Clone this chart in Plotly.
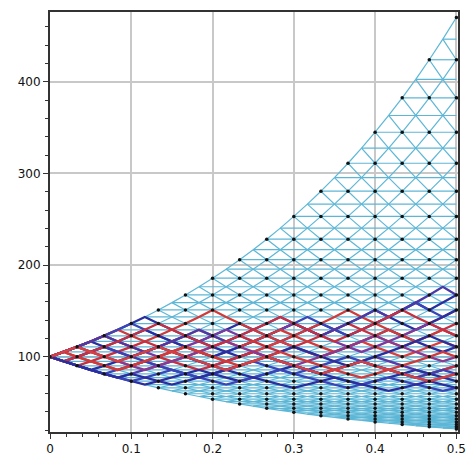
import numpy as np
import plotly.graph_objects as go

# binomial tree parameters
s0 = 100.0
t_end = 0.5
n_steps = 30
s_top = 470.0

# sample paths through the tree (u = up, d = down)
paths = [
    "uuuuuuudddduuuddduuudduuuuuduu",
    "uuuuudduuuuuddddduuuuudddduuuu",
    "uuuuuudddddduuuuuuuddduuuuuddu",
    "uuuduuuddddduuuuuudduuuuddduuu",
    "uuuudddduuuuudduuuddddduuuuudd",
    "dduuuuuddduuuuddduuuuudddduuuu",
    "duuudduuuudddduuuddduuuuuddddu",
    "uudddduuuuddduuuuddduuuddduuud",
    "ddddduuuuudduuuddddduuuudddduu",
    "dddduuudddduuuuddduuuudddddduu",
    "udddduuuddduuuuddddduuudddduuu",
    "ddddddduuuuddduuuuddddduuuuddd",
    "duuuddddddduuuuudddduuudddduud",
    "uuuuddduuuuddduuudddduuuudduud",
    "ddduuuuuddddduuuuudddduuuuuudd",
    "uuddddduuuuuuddddduuuuuudddddu",
    "dddddduuudddduuuuddddduuuddddu",
    "udddduuuuudddduuudddddduuuuuud",
    "uuuuddduuuudduuuuddduuuuduuuud",
    "duuuuuuudddduuuuudddduuuuudddd",
    "ddddduddduuuuddddduuudddduuudd",
    "uuddduuuddddduuudddduuuddddduu",
]
path_colors = ["#2b2f9e", "#d23a3a", "#3a46b8", "#2b2f9e", "#7a3aa0", "#c83040",
               "#2b2f9e", "#d84040", "#5a3aa8", "#3a46b8", "#c83040",
               "#2b2f9e", "#4040b0", "#d23a3a", "#2b2f9e", "#8a3a90", "#3a46b8",
               "#d23a3a", "#4a3aa8", "#c83040", "#2b2f9e", "#d84040"]

dt = t_end / n_steps
u = (s_top / s0) ** (1.0 / n_steps)
lat = "#5cb6d6"

fig = go.Figure()

# lattice diagonals
xs, ys = [], []
for n in range(n_steps):
    for k in range(n + 1):
        s = s0 * u ** (2 * k - n)
        for s2 in (s * u, s / u):
            xs += [n * dt, (n + 1) * dt, None]
            ys += [s, s2, None]
# horizontal levels
for j in range(-n_steps, n_steps + 1):
    first = abs(j)
    xs += [first * dt, t_end, None]
    ys += [s0 * u ** j, s0 * u ** j, None]
fig.add_trace(go.Scatter(x=xs, y=ys, mode="lines", line=dict(color=lat, width=1.2),
                         hoverinfo="skip"))

for p, c in zip(paths, path_colors):
    lv = np.concatenate([[0], np.cumsum([1 if ch == "u" else -1 for ch in p])])
    fig.add_trace(go.Scatter(x=np.arange(n_steps + 1) * dt, y=s0 * u ** lv, mode="lines",
                             line=dict(color=c, width=2.3)))

# node dots
nx, ny = [], []
for n in range(0, n_steps + 1, 2):
    for k in range(n + 1):
        nx.append(n * dt)
        ny.append(s0 * u ** (2 * k - n))
fig.add_trace(go.Scatter(x=nx, y=ny, mode="markers", marker=dict(color="#111", size=3.5)))

ax = dict(showline=True, linecolor="#333", linewidth=2, mirror=True, ticks="outside",
          tickcolor="#333", showgrid=True, gridcolor="#c8c8c8", gridwidth=1.5, zeroline=False,
          minor=dict(ticks="outside", ticklen=3, tickcolor="#333"),
          tickfont=dict(family="DejaVu Sans", size=12, color="#111"))
fig.update_xaxes(range=[0, 0.502], dtick=0.1, **ax)
fig.update_yaxes(range=[18, 476], tickvals=[100, 200, 300, 400], **ax)
fig.update_layout(width=474, height=474, showlegend=False, plot_bgcolor="white",
                  paper_bgcolor="white", margin=dict(l=42, r=24, t=2, b=50))
fig.write_html("out.html")
